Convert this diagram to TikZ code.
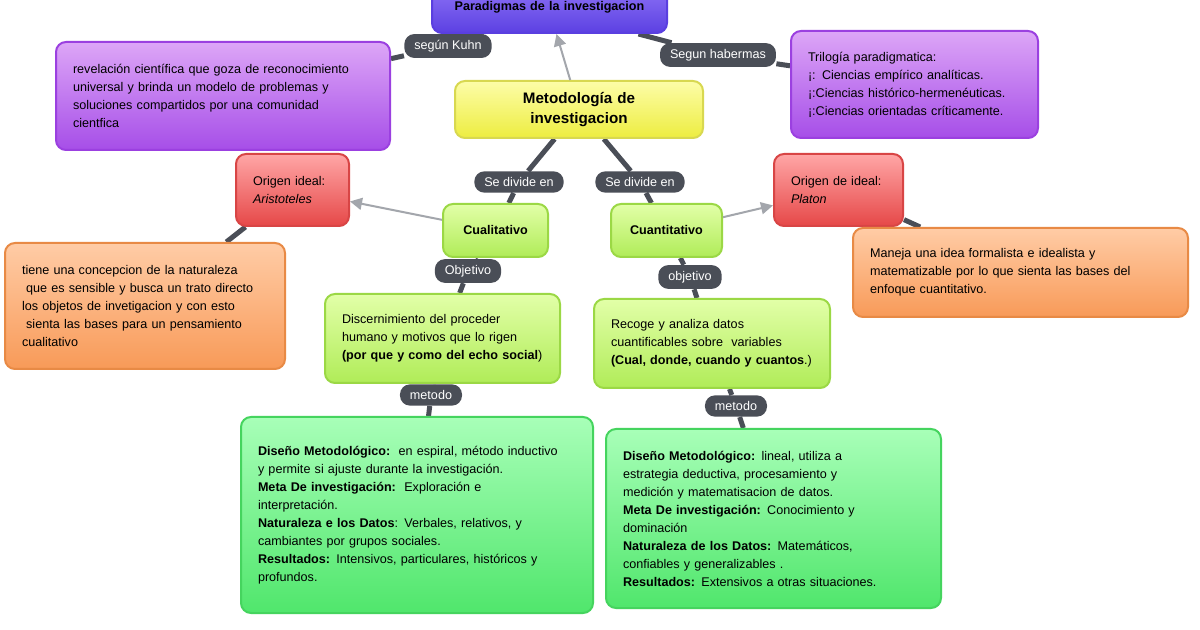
\documentclass[tikz,border=0pt]{standalone}
\usepackage{fontspec}
\setmainfont{Liberation Sans}
\usetikzlibrary{backgrounds,arrows.meta}
\definecolor{lbl}{HTML}{4A4E57}
\definecolor{arr}{HTML}{A3A6AC}
\definecolor{cA}{HTML}{9B40E0}\definecolor{cB}{HTML}{DDA6F7}\definecolor{cC}{HTML}{A64EE8}
\definecolor{vA}{HTML}{5A3FE0}\definecolor{vB}{HTML}{8A70F5}\definecolor{vC}{HTML}{5C40E2}
\definecolor{yA}{HTML}{D8D850}\definecolor{yB}{HTML}{FDFDA8}\definecolor{yC}{HTML}{EDED40}
\definecolor{rA}{HTML}{D84545}\definecolor{rB}{HTML}{FFA6A6}\definecolor{rC}{HTML}{E64848}
\definecolor{lA}{HTML}{9BD845}\definecolor{lB}{HTML}{E2FFA8}\definecolor{lC}{HTML}{B0EC58}
\definecolor{gA}{HTML}{45D45E}\definecolor{gB}{HTML}{A8FFB8}\definecolor{gC}{HTML}{50E66C}
\definecolor{oA}{HTML}{E88A45}\definecolor{oB}{HTML}{FFCCA6}\definecolor{oC}{HTML}{F89A58}
\tikzset{
 bx/.style={rounded corners=5pt,line width=1pt,align=left,font=\fontsize{6.3}{9}\selectfont,inner xsep=0pt},
 purple/.style={bx,draw=cA,top color=cB,bottom color=cC},
 violet/.style={bx,draw=vA,top color=vB,bottom color=vC},
 yellow/.style={bx,draw=yA,top color=yB,bottom color=yC},
 red/.style={bx,draw=rA,top color=rB,bottom color=rC},
 lgreen/.style={bx,draw=lA,top color=lB,bottom color=lC},
 green/.style={bx,draw=gA,top color=gB,bottom color=gC},
 orange/.style={bx,draw=oA,top color=oB,bottom color=oC},
 pill/.style={rounded corners=5pt,fill=lbl,text=white,font=\fontsize{6.3}{7}\selectfont,inner xsep=5pt,inner ysep=3pt},
 conn/.style={draw=lbl,line width=2.5pt},
 garr/.style={draw=arr,line width=1pt,-{Triangle[length=6pt,width=6pt]}},
}
\newcommand\mybox[7]{%
 \pgfmathsetmacro\bw{(#4-#2)*0.5}\pgfmathsetmacro\bh{(#5-#3)*0.5}\pgfmathsetmacro\tw{(#4-#2)*0.5-17}%
 \node[#6,minimum width=\bw pt,minimum height=\bh pt,text width=\tw pt] (#1) at ({(#2+#4)/2},{(#3+#5)/2}) {#7};}
\begin{document}
\begin{tikzpicture}[x=0.5pt,y=-0.5pt]
\useasboundingbox (0,0) rectangle (1200,630);
\clip (0,0) rectangle (1200,630);
\mybox{par}{432}{-12}{667}{33}{violet,align=center}{\textbf{Paradigmas de la investigacion}\\[-4pt]\mbox{}}
\mybox{kuhn}{56}{42}{390}{150}{purple}{revelación científica que goza de reconocimiento\\universal y brinda un modelo de problemas y\\soluciones compartidos por una comunidad\\cientfica}
\mybox{tri}{791}{31}{1038}{138}{purple}{Trilogía paradigmatica:\\¡: Ciencias empírico analíticas.\\¡:Ciencias histórico-hermenéuticas.\\¡:Ciencias orientadas críticamente.}
\mybox{met}{455}{81}{703}{138}{yellow,align=center,font=\fontsize{7.6}{10}\selectfont}{\textbf{Metodología de investigacion}}
\mybox{ari}{236}{154}{349}{226}{red}{Origen ideal:\\\textit{Aristoteles}}
\mybox{pla}{774}{154}{903}{226}{red}{Origen de ideal:\\\textit{Platon}}
\mybox{cual}{443}{204}{548}{257}{lgreen,align=center}{\textbf{Cualitativo}}
\mybox{cuan}{611}{204}{722}{257}{lgreen,align=center}{\textbf{Cuantitativo}}
\mybox{ol}{5}{243}{285}{369}{orange}{tiene una concepcion de la naturaleza\\\ que es sensible y busca un trato directo\\los objetos de invetigacion y con esto\\\ sienta las bases para un pensamiento\\cualitativo}
\mybox{or}{853}{228}{1188}{317}{orange}{Maneja una idea formalista e idealista y\\matematizable por lo que sienta las bases del\\enfoque cuantitativo.}
\mybox{gl}{325}{294}{560}{383}{lgreen}{Discernimiento del proceder\\humano y motivos que lo rigen\\\textbf{(por que y como del echo social})}
\mybox{gr}{594}{299}{830}{388}{lgreen}{Recoge y analiza datos\\cuantificables sobre\ \ variables\\\textbf{(Cual, donde, cuando y cuantos}.)}
\mybox{bl}{241}{417}{593}{613}{green}{\textbf{Diseño Metodológico:}\ \ en espiral, método inductivo\\y permite si ajuste durante la investigación.\\\textbf{Meta De investigación:}\ \ Exploración e\\interpretación.\\\textbf{Naturaleza e los Datos}: Verbales, relativos, y\\cambiantes por grupos sociales.\\\textbf{Resultados:} Intensivos, particulares, históricos y\\profundos.\\[8pt]}
\mybox{br}{606}{429}{941}{608}{green}{\textbf{Diseño Metodológico:} lineal, utiliza a\\estrategia deductiva, procesamiento y\\medición y matematisacion de datos.\\\textbf{Meta De investigación:} Conocimiento y\\dominación\\\textbf{Naturaleza de los Datos:} Matemáticos,\\confiables y generalizables .\\\textbf{Resultados:} Extensivos a otras situaciones.}
\node[pill] (lk) at (448,46) {según Kuhn};
\node[pill] (lh) at (718,55) {Segun habermas};
\node[pill] (d1) at (519,182) {Se divide en};
\node[pill] (d2) at (640,182) {Se divide en};
\node[pill] (o1) at (468,271) {Objetivo};
\node[pill] (o2) at (690,277) {objetivo};
\node[pill] (m1) at (431,395) {metodo};
\node[pill] (m2) at (736,406) {metodo};
\begin{pgfonlayer}{background}
\fill[white] (0,0) rectangle (1200,630);
\draw[conn] (kuhn) -- (lk) -- (par);
\draw[conn] (par) -- (lh) -- (tri);
\draw[conn] (met) -- (d1) -- (cual);
\draw[conn] (met) -- (d2) -- (cuan);
\draw[conn] (cual) -- (o1) -- (gl);
\draw[conn] (cuan) -- (o2) -- (gr);
\draw[conn] (gl) -- (m1) -- (bl);
\draw[conn] (gr) -- (m2) -- (br);
\draw[conn] (ari) -- (ol);
\draw[conn] (pla) -- (or);
\end{pgfonlayer}
\draw[garr] (met) -- (par);
\draw[garr] (cual) -- (ari);
\draw[garr] (cuan) -- (pla);
\end{tikzpicture}
\end{document}
